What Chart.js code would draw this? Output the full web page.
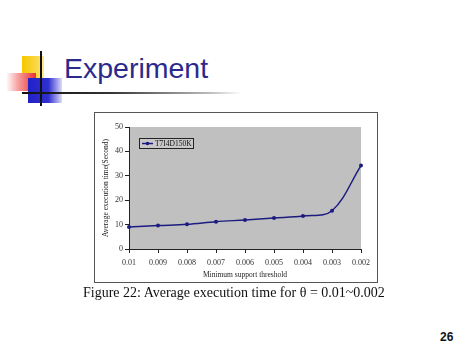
<!DOCTYPE html>
<html><head><meta charset="utf-8">
<script src="https://cdn.jsdelivr.net/npm/chart.js@4/dist/chart.umd.min.js"></script>
<style>
html,body{margin:0;padding:0;background:#fff;}
body{width:474px;height:355px;position:relative;overflow:hidden;font-family:"Liberation Sans",Arial,sans-serif;}
.abs{position:absolute;}
#yel{left:22px;top:56px;width:22px;height:22px;background:linear-gradient(90deg,#f5c800 0%,#fbd84a 70%,#fde99a 100%);}
#red{left:6px;top:73px;width:30px;height:18px;background:linear-gradient(90deg,rgba(255,255,255,0.9) 0%,#f7a0a0 40%,#e83030 100%);}
#blu{left:28px;top:78px;width:34px;height:25px;background:linear-gradient(90deg,#2020c8 0%,#3030d0 60%,rgba(80,80,230,0.2) 100%);}
#vl{left:40px;top:51px;width:2px;height:55px;background:#111;}
#hl{left:22px;top:92px;width:220px;height:2px;background:linear-gradient(90deg,#111 0%,#333 40%,#bbb 85%,rgba(255,255,255,0) 100%);}
#title{left:64px;top:48px;font-size:28.5px;color:#2a2a8c;line-height:40px;white-space:nowrap;}
#box{left:94px;top:112px;width:284px;height:171px;}
#frame{left:94px;top:112px;width:282px;height:169px;border:1px solid #555;pointer-events:none;}
#cap{left:83px;top:285px;font-family:"Liberation Serif","Times New Roman",serif;font-size:14px;color:#111;white-space:nowrap;}
#pg{left:440px;top:330px;font-size:12px;font-weight:bold;color:#111;}
</style></head>
<body>
<div class="abs" id="yel"></div>
<div class="abs" id="red"></div>
<div class="abs" id="blu"></div>
<div class="abs" id="vl"></div>
<div class="abs" id="hl"></div>
<div class="abs" id="title">Experiment</div>
<div class="abs" id="box"><canvas id="c" width="284" height="171"></canvas></div>
<div class="abs" id="frame"></div>
<div class="abs" id="cap">Figure 22: Average execution time for θ = 0.01~0.002</div>
<div class="abs" id="pg">26</div>
<script>
const categories = ["0.01","0.009","0.008","0.007","0.006","0.005","0.004","0.003","0.002"];
const seriesName = "T7I4D150K";
const execTime = [9.0, 9.6, 10.1, 11.2, 11.9, 12.7, 13.5, 15.7, 34.2];
const yTicks = [0, 10, 20, 30, 40, 50];
const xTitle = "Minimum support threshold";
const yTitle = "Average execution time(Second)";

const serif = "'Liberation Serif','Times New Roman',serif";
const lineColor = "#1c1c80";

const bgPlugin = {
  id: 'bg',
  beforeDraw(chart) {
    const {ctx, chartArea: a} = chart;
    ctx.save();
    ctx.fillStyle = '#c0c0c0';
    ctx.fillRect(a.left, a.top, a.right - a.left, a.bottom - a.top);
    ctx.restore();
  },
  afterDraw(chart) {
    const {ctx, chartArea: a} = chart;
    const ds = chart.data.datasets[0];
    const x = a.left + 10, y = a.top + 11, w = 54, h = 10;
    ctx.save();
    ctx.fillStyle = '#c8c8c8';
    ctx.fillRect(x, y, w, h);
    ctx.strokeStyle = '#222';
    ctx.lineWidth = 1;
    ctx.strokeRect(x + 0.5, y + 0.5, w, h);
    ctx.strokeStyle = lineColor;
    ctx.lineWidth = 1.5;
    ctx.beginPath();
    ctx.moveTo(x + 3, y + h / 2 + 0.5);
    ctx.lineTo(x + 14, y + h / 2 + 0.5);
    ctx.stroke();
    ctx.fillStyle = lineColor;
    ctx.beginPath();
    ctx.arc(x + 8.5, y + h / 2 + 0.5, 1.8, 0, Math.PI * 2);
    ctx.fill();
    ctx.fillStyle = '#111';
    ctx.font = "7.5px " + serif;
    ctx.textBaseline = 'middle';
    ctx.fillText(ds.label, x + 16, y + h / 2 + 1);
    ctx.restore();
  }
};

new Chart(document.getElementById('c'), {
  type: 'line',
  data: {
    labels: categories,
    datasets: [{
      label: seriesName,
      data: execTime,
      borderColor: lineColor,
      backgroundColor: lineColor,
      borderWidth: 1.5,
      pointRadius: 2,
      pointBackgroundColor: lineColor,
      pointBorderWidth: 0,
      tension: 0.35,
      fill: false
    }]
  },
  options: {
    responsive: false,
    animation: false,
    devicePixelRatio: 1,
    layout: { padding: { top: 15, right: 17, left: 0, bottom: 0 } },
    plugins: { legend: { display: false }, tooltip: { enabled: false } },
    scales: {
      x: {
        offset: false,
        grid: { display: true, drawOnChartArea: false, drawTicks: true, tickLength: 4, color: '#222' },
        border: { display: true, color: '#222', width: 1 },
        ticks: { font: { family: serif, size: 8 }, color: '#333', padding: 5, maxRotation: 0, autoSkip: false },
        title: { display: true, text: xTitle, font: { family: serif, size: 7.5 }, color: '#222', padding: { top: 0, bottom: 3 } },
        afterFit(s) { s.height = 34; }
      },
      y: {
        min: 0, max: 50,
        afterBuildTicks(s) { s.ticks = yTicks.map(v => ({ value: v })); },
        grid: { display: true, drawOnChartArea: false, drawTicks: true, tickLength: 4, color: '#222' },
        border: { display: true, color: '#222', width: 1 },
        ticks: { font: { family: serif, size: 8 }, color: '#333', padding: 2 },
        title: { display: true, text: yTitle, font: { family: serif, size: 7.5 }, color: '#222', padding: { top: 8, bottom: 0 } },
        afterFit(s) { s.width = 35; }
      }
    }
  },
  plugins: [bgPlugin]
});
</script>
</body></html>
